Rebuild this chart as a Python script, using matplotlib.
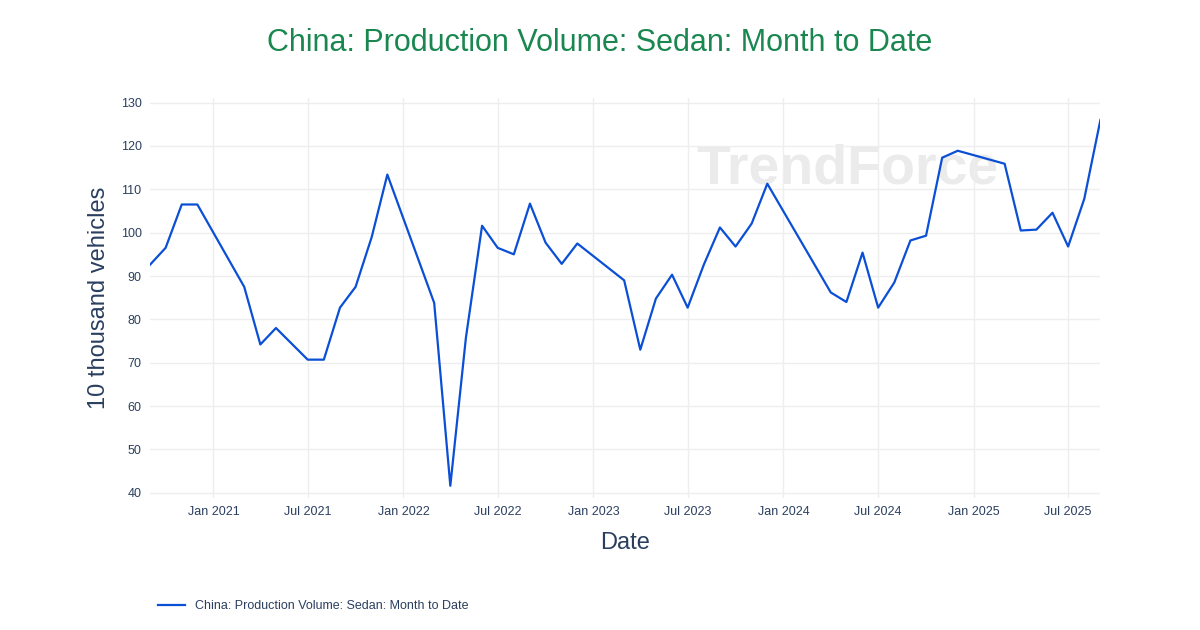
import matplotlib.pyplot as plt
import matplotlib.dates as mdates
import pandas as pd

plt.rcParams['font.family'] = ['Liberation Sans', 'DejaVu Sans']

dates = ["2020-09", "2020-10", "2020-11", "2020-12", "2021-03", "2021-04", "2021-05",
         "2021-07", "2021-08", "2021-09", "2021-10", "2021-11", "2021-12",
         "2022-03", "2022-04", "2022-05", "2022-06", "2022-07", "2022-08", "2022-09",
         "2022-10", "2022-11", "2022-12",
         "2023-03", "2023-04", "2023-05", "2023-06", "2023-07", "2023-08", "2023-09",
         "2023-10", "2023-11", "2023-12",
         "2024-04", "2024-05", "2024-06", "2024-07", "2024-08", "2024-09", "2024-10",
         "2024-11", "2024-12",
         "2025-03", "2025-04", "2025-05", "2025-06", "2025-07", "2025-08", "2025-09"]
values = [92.6, 96.5, 106.5, 106.5, 87.5, 74.2, 78.0,
          70.7, 70.7, 82.7, 87.5, 99.0, 113.4,
          83.8, 41.6, 75.8, 101.6, 96.5, 95.0, 106.7,
          97.7, 92.8, 97.5,
          89.0, 73.0, 84.8, 90.3, 82.7, 92.6, 101.2,
          96.8, 102.1, 111.3,
          86.2, 84.0, 95.4, 82.7, 88.5, 98.2, 99.3,
          117.3, 118.9,
          115.9, 100.5, 100.7, 104.6, 96.8, 107.8, 126.0]
x = pd.to_datetime(dates)

fig = plt.figure(figsize=(12, 6.3), dpi=100)
ax = fig.add_axes([0.125, 0.21, 0.792, 0.635])
ax.plot(x, values, color="#0a4fd6", lw=1.6, label="China: Production Volume: Sedan: Month to Date")
ax.set_xlim(x[0], x[-1])
ax.set_ylim(38.85, 131.15)
ax.set_yticks(range(40, 131, 10))
ax.xaxis.set_major_locator(mdates.MonthLocator(bymonth=[1, 7]))
ax.xaxis.set_major_formatter(mdates.DateFormatter("%b %Y"))
ax.grid(color="#eeeeee", lw=1)
for s in ax.spines.values():
    s.set_visible(False)
ax.tick_params(length=0, labelsize=9, colors="#2a3f5f", pad=6)
ax.set_xlabel("Date", fontsize=17, color="#2a3f5f", labelpad=10)
ax.set_ylabel("10 thousand vehicles", fontsize=17, color="#2a3f5f", labelpad=8)
ax.text(0.575, 0.82, "TrendForce", transform=ax.transAxes, fontsize=40, fontweight="bold",
        color="#ebebeb", ha="left", va="center", zorder=0)
fig.suptitle("China: Production Volume: Sedan: Month to Date", y=0.955, fontsize=22, color="#1a8750")
fig.legend(loc="lower left", bbox_to_anchor=(0.122, 0.01), frameon=False, fontsize=9,
           labelcolor="#2a3f5f", handlelength=2.2)
fig.savefig("out.png", dpi=100)
